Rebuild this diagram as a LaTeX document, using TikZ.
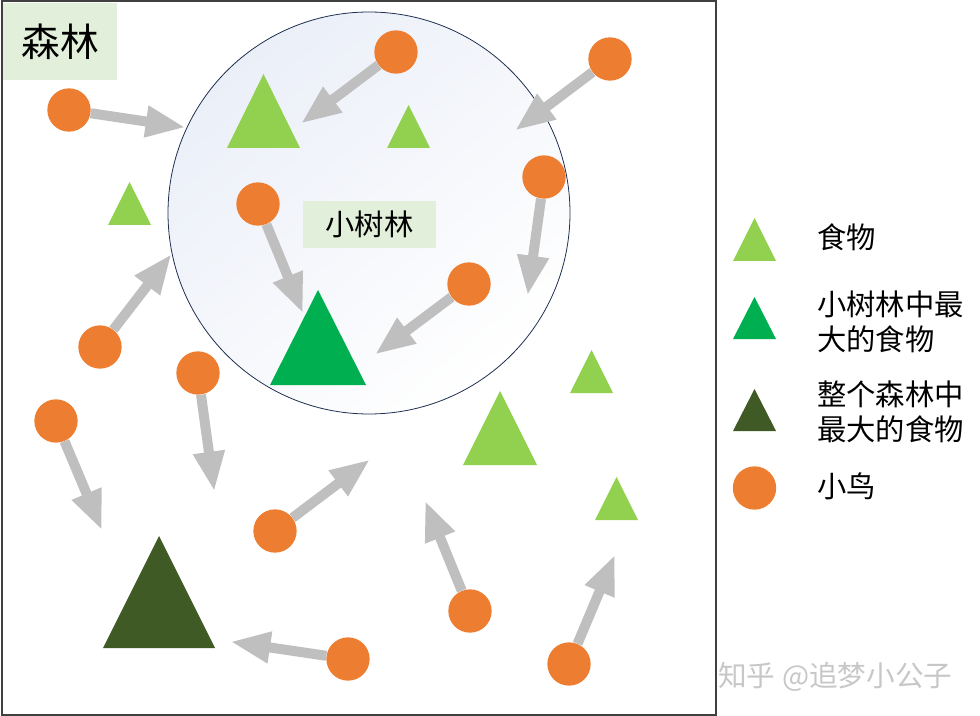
\documentclass[tikz,border=0pt]{standalone}
\usepackage{fontspec}
\setmainfont{Noto Sans CJK SC}
\usetikzlibrary{arrows.meta, shapes.geometric, positioning}

\definecolor{foodgreen}{HTML}{92D050}
\definecolor{bestgreen}{HTML}{00B050}
\definecolor{topgreen}{HTML}{3F5A25}
\definecolor{birdorange}{HTML}{ED7D31}
\definecolor{boxgreen}{HTML}{E2EFDA}
\definecolor{flightgray}{HTML}{BFBFBF}
\definecolor{groveline}{HTML}{1F2F50}
\definecolor{groveshade}{HTML}{EBEFF8}
\definecolor{grovemid}{HTML}{FAFBFD}

\tikzset{
  bird/.style={circle,fill=birdorange,inner sep=0pt,minimum size=32.5pt},
  tri/.style 2 args={isosceles triangle,isosceles triangle stretches,shape border rotate=90,
    inner sep=0pt,outer sep=0pt,minimum width=#1*0.75pt,minimum height=#2*0.75pt,anchor=lower side},
  flight/.style={-{Triangle[length=30pt,width=22pt]},line width=7.5pt,flightgray,shorten >=-2pt},
  tag/.style={fill=boxgreen,inner sep=0pt},
  legend text/.style={anchor=west,align=left,font=\fontsize{22}{26}\selectfont,inner sep=0pt}
}

\begin{document}
\begin{tikzpicture}[x=0.75pt,y=-0.75pt]
  \useasboundingbox (0,0) rectangle (980,716);

  % forest and grove
  \node[draw=black!75,line width=0.9pt,minimum width=535.5pt,minimum height=535.5pt,inner sep=0pt] (forest) at (359,358) {};
  \node[circle,draw=groveline,line width=0.6pt,inner sep=0pt,minimum size=301.5pt,
    top color=groveshade,middle color=grovemid,bottom color=white,shading angle=40] (grove) at (369,213) {};
  \node[tag,minimum width=85.5pt,minimum height=58pt,font=\fontsize{29}{33}\selectfont] (forestlabel) at (60,41.5) {森林};
  \node[tag,minimum width=99.5pt,minimum height=35pt,font=\fontsize{22}{26}\selectfont] (grovelabel) at (369.5,224.5) {小树林};

  % food
  \foreach \n/\x/\y/\w/\h/\c in {a/263.5/148/73/74/foodgreen, b/408.5/148/43/43/foodgreen,
    c/129.5/225/43/43/foodgreen, d/318/385/96/95/bestgreen, e/591.5/393/43/43/foodgreen,
    f/500/465/74/74/foodgreen, g/616.5/520/43/43/foodgreen, h/159/648/112/112/topgreen,
    k1/754.5/261/43/43/foodgreen, k2/754.5/339/43/42/bestgreen, k3/754.5/431/43/42/topgreen} {
    \node[tri={\w}{\h},fill=\c] (food\n) at (\x,\y) {};}

  % birds and where they fly
  \foreach \n/\x/\y/\tx/\ty in {1/69/110/183/127, 2/396/52/303/122, 3/610/59/517/129,
    4/544/177/528/293, 5/258/204/302/311, 6/469/284/377/353, 7/100/347/170/256,
    8/198/373/214/489, 9/56/421/101/528, 10/275/531/368/461, 11/470/611/426/503,
    12/348/659/233/642, 13/569/664/614/557} {
    \node[bird] (bird\n) at (\x,\y) {};
    \coordinate (end\n) at (\tx,\ty);
    \draw[flight] (bird\n) -- (end\n);}

  % legend
  \node[bird] (birdkey) at (754.5,488) {};
  \node[legend text] (keya) at (817,237) {食物};
  \node[legend text] (keyb) at (817,322) {小树林中最\\大的食物};
  \node[legend text] (keyc) at (817,412) {整个森林中\\最大的食物};
  \node[legend text] (keyd) at (817,486) {小鸟};

  \node[anchor=west,inner sep=0pt,text=black!22,font=\fontsize{21.5}{24}\selectfont] (mark) at (718,677) {知乎 @追梦小公子};
\end{tikzpicture}
\end{document}
